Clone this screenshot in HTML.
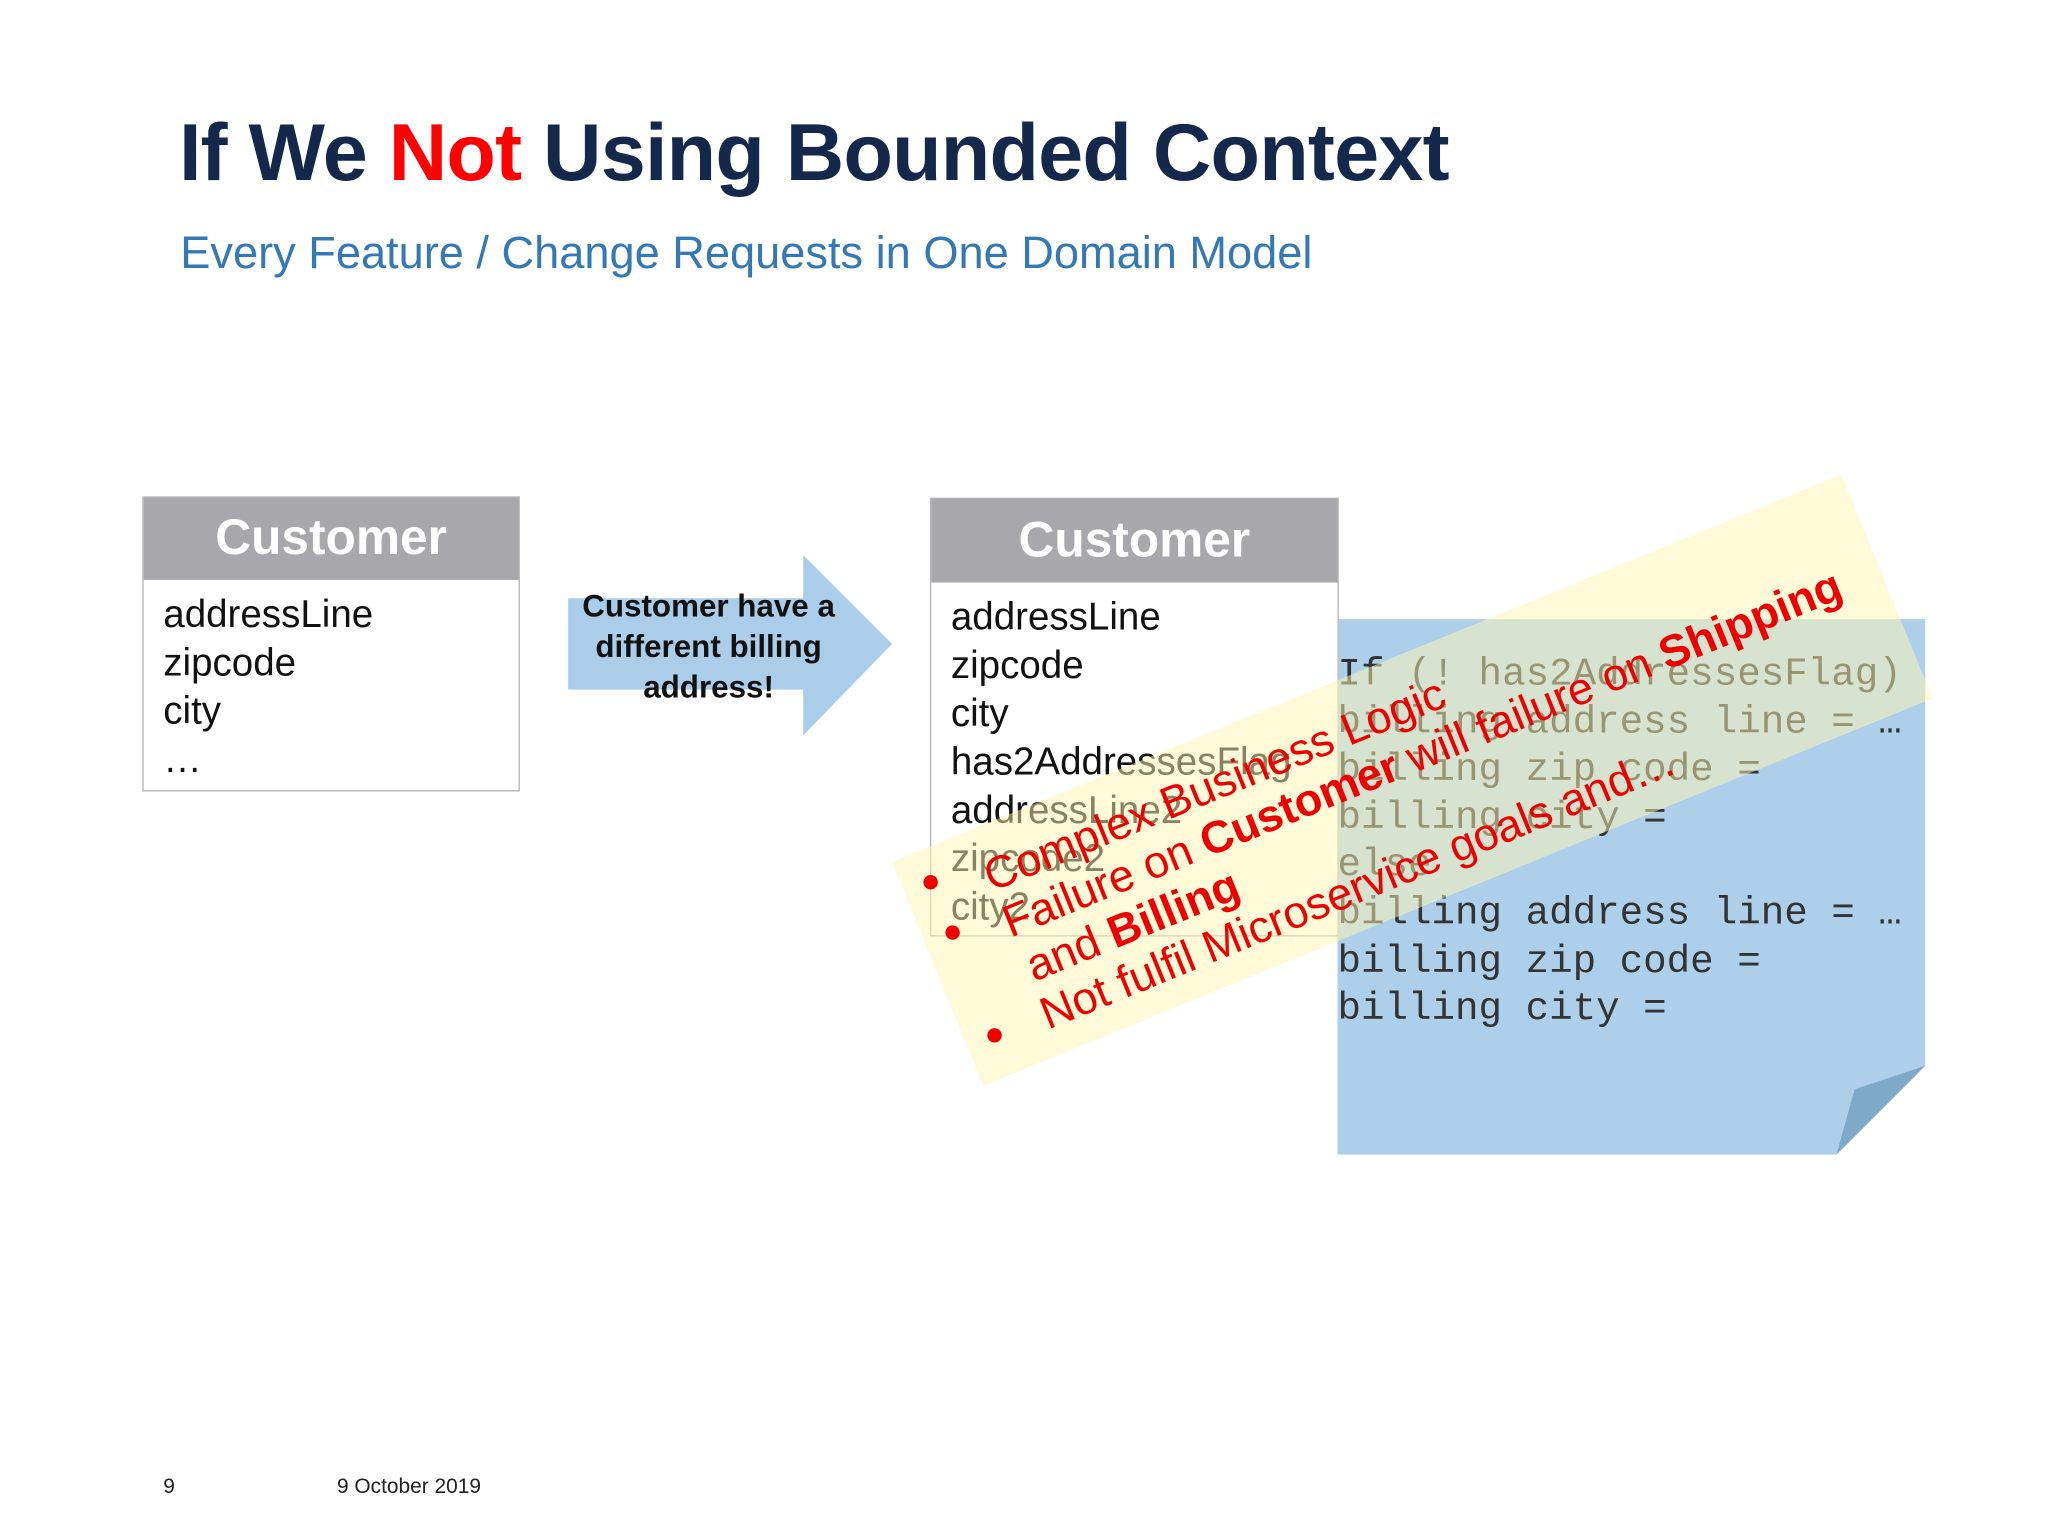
<!DOCTYPE html>
<html><head><meta charset="utf-8"><style>
html,body{margin:0;padding:0;background:#fff;}
body{width:2048px;height:1536px;overflow:hidden;position:relative;}
#w{position:absolute;left:0;top:0;width:1568px;height:1176px;transform:scale(1.306122);transform-origin:0 0;font-family:"Liberation Sans",sans-serif;}
.a{position:absolute;white-space:nowrap;}
.box{position:absolute;background:#fff;border:1.5px solid #b3b3b6;box-sizing:border-box;}
.hd{position:absolute;left:0;right:0;top:0;background:#a8a7ac;color:#fff;font-weight:bold;font-size:38px;text-align:center;}
.it{position:absolute;left:15px;font-size:29.5px;line-height:37px;color:#111;}
.code{font-family:"Liberation Mono",monospace;font-size:30px;color:#333;line-height:36.6px;}
</style></head><body><div id="w">
<div class="a" style="left:137px;top:82px;font-size:62px;font-weight:bold;color:#14284b;letter-spacing:-0.6px;">If We <span style="color:#f00">Not</span> Using Bounded Context</div>
<div class="a" style="left:138px;top:175px;font-size:34.6px;color:#3478b4;">Every Feature / Change Requests in One Domain Model</div>

<div class="box" style="left:109px;top:380px;width:289px;height:226px;">
 <div class="hd" style="height:63px;line-height:63px;">Customer</div>
 <div class="it" style="top:71px;">addressLine<br>zipcode<br>city<br>…</div>
</div>

<svg class="a" style="left:0;top:0" width="1568" height="1176">
 <polygon points="435,458 615,458 615,425 683,493 615,563 615,528 435,528" fill="#aacdea"/>
 <polygon points="1024,474 1474,474 1474,816 1406,884 1024,884" fill="#aecfea"/>
 <polygon points="1474,816 1406,884 1420,834" fill="#7fa9c9"/>
</svg>
<div class="a" style="left:430px;top:449px;width:225px;text-align:center;font-size:24px;font-weight:bold;line-height:31px;color:#111;">Customer have a<br>different billing<br>address!</div>

<div class="box" style="left:712px;top:381px;width:313px;height:336px;">
 <div class="hd" style="height:64px;line-height:64px;">Customer</div>
 <div class="it" style="top:72px;">addressLine<br>zipcode<br>city<br>has2AddressesFlag<br>addressLine2<br>zipcode2<br>city2</div>
</div>

<div class="a code" style="left:1024px;top:499px;">If (! has2AddressesFlag)<br>billing address line = …<br>billing zip code =<br>billing city =<br>else<br>billing address line = …<br>billing zip code =<br>billing city =</div>

<div class="a" style="left:683px;top:660px;width:785px;height:185px;transform:rotate(-22.2deg);transform-origin:0 0;background:rgba(255,248,180,0.5);">
 <div class="a" style="left:16px;top:20px;width:11px;height:11px;border-radius:50%;background:#e00;"></div>
 <div class="a" style="left:17px;top:62px;width:11px;height:11px;border-radius:50%;background:#e00;"></div>
 <div class="a" style="left:17px;top:147px;width:11px;height:11px;border-radius:50%;background:#e00;"></div>
 <div class="a" style="left:62px;top:20px;font-size:34.5px;line-height:38px;color:#e00;">Complex Business Logic<br>Failure on <b>Customer</b> will failure on <b>Shipping</b><br><span style="padding-left:4px">and <b>Billing</b></span><br>Not fulfil Microservice goals and…</div>
</div>

<div class="a" style="left:125px;top:1130px;font-size:16px;color:#222;">9</div>
<div class="a" style="left:258px;top:1130px;font-size:16px;color:#222;">9 October 2019</div>
</div></body></html>
